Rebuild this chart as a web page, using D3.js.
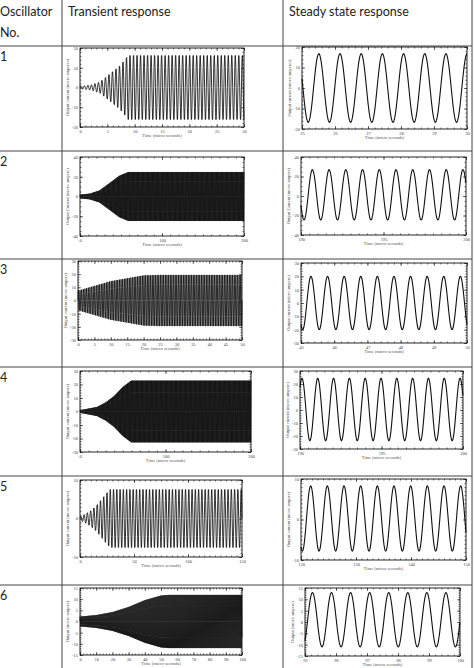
<!DOCTYPE html>
<html><head><meta charset="utf-8">
<script src="https://cdn.jsdelivr.net/npm/d3@7"></script>
<style>
body{margin:0;background:#fff}
.hdr{font-family:Lato,'Open Sans',sans-serif;font-size:12.5px;fill:#222}
.tick text{font-family:'Liberation Serif',serif;font-size:4.5px;fill:#444}
.ttl{font-family:'Liberation Serif',serif;font-size:4.5px;fill:#555}
</style></head><body><svg></svg><script>
// --- data ---
var oscillators = ['1','2','3','4','5','6'];
var headers = ['Transient response','Steady state response'];

var transientX = [[0,30],[0,200],[0,50],[0,200],[0,150],[0,100]];
var transientY = [[-20,20],[-40,40],[-30,30],[-30,30],[-10,10],[-15,15]];
var transientXTicks = [[0,5,10,15,20,25,30],[0,100,200],[0,5,10,15,20,25,30,35,40,45,50],[0,100,200],[0,50,100,150],[0,10,20,30,40,50,60,70,80,90,100]];
var transientYTicks = [[-20,-10,0,10,20],[-40,-20,0,20,40],[-30,-20,-10,0,10,20,30],[-30,-20,-10,0,10,20,30],[-10,0,10],[-15,-10,-5,0,5,10,15]];
var transientMinor = [[1,2],[10,5],[1,2],[10,2],[5,1],[2,1]];
// envelope (time, amplitude) of each transient trace
var envelopeT = [
  [0,2,3.7,5.5,7.3,8.3,8.8,30],
  [0,12,24,37,48,59,200],
  [0,10,20,25,50],
  [0,20,30,40,50,60,200],
  [0,5,10,15,20,25,28,150],
  [0,10,20,30,40,50,55,100]];
var envelopeA = [
  [0.7,1.3,3,7.3,11.5,15,17,17],
  [2,3,6.4,14.8,22,26,26],
  [7.8,15.4,20,20.4,20.4],
  [1,3.5,7,12,19,24,24],
  [0.5,1.2,2.1,3.4,5.2,7,7.9,7.9],
  [2.3,3,4.4,6.8,10,12.2,12.5,12.5]];

var steadyX = [[25,30],[190,200],[45,50],[190,200],[120,150],[95,100]];
var steadyY = [[-20,20],[-40,40],[-30,30],[-30,30],[-10,10],[-15,15]];
var steadyXTicks = [[25,26,27,28,29,30],[190,195,200],[45,46,47,48,49,50],[190,195,200],[120,130,140,150],[95,96,97,98,99,100]];
var steadyYTicks = [[-20,-10,0,10,20],[-40,-20,0,20,40],[-30,-20,-10,0,10,20,30],[-30,-20,-10,0,10,20,30],[-10,0,10],[-15,-10,-5,0,5,10,15]];
var steadyMinor = [[0.2,2],[0.5,5],[0.2,2],[0.5,2],[1,1],[0.2,1]];
var period = [0.642, 1.014, 0.5, 0.97, 3.03, 0.615];
var peakTime = [25.51, 190.69, 45.3, 191.09, 121.76, 95.24];
var steadyAmp = [16.7, 25.8, 20, 24, 8.05, 12];
var steadyOffset = [0, 1.2, 0, 0.4, 0.25, 1];

var xTitle = 'Time (micro seconds)';
var yTitles = ['Output current (micro amperes)','Output Current (micro ampere)','Output current (micro ampere)','Output current (micro ampere)','Output current (micro ampere)','Output (micro ampere)'];

// --- layout ---
var W = 474, H = 668;
var svg = d3.select('svg').attr('width', W).attr('height', H);
var rowLines = [46, 151, 259, 367, 476, 585];
var colLines = [62, 283, 472];

var tFrames = [[80,48,244,127],[80,157,244,236],[78,261,242,340],[80,371,251,452],[80,480,242,557],[80,588,242,655]];
var sFrames = [[302,47,467,129],[301,157,466,235],[301,263,467,343],[300,371,463,449],[301,479,466,560],[305,588,460,656]];

// table grid
svg.selectAll('.hline').data(rowLines).enter().append('line')
  .attr('x1', 0).attr('x2', colLines[2]).attr('y1', d => d).attr('y2', d => d)
  .attr('stroke', '#444').attr('stroke-width', 1);
svg.selectAll('.vline').data(colLines).enter().append('line')
  .attr('x1', d => d).attr('x2', d => d).attr('y1', 0).attr('y2', H)
  .attr('stroke', '#444').attr('stroke-width', 1);

svg.append('text').attr('class','hdr').attr('x', 0).attr('y', 16).text('Oscillator');
svg.append('text').attr('class','hdr').attr('x', 0).attr('y', 37).text('No.');
svg.append('text').attr('class','hdr').attr('x', 68).attr('y', 16).text(headers[0]);
svg.append('text').attr('class','hdr').attr('x', 289).attr('y', 16).text(headers[1]);

svg.selectAll('.rowlab').data(oscillators).enter().append('text')
  .attr('class','hdr').attr('x', 0).attr('y', (d, i) => rowLines[i] + 15).text(d => d);

function minorTicks(dom, step) {
  var out = [];
  for (var v = dom[0]; v <= dom[1] + 1e-9; v += step) out.push(+v.toFixed(4));
  return out;
}

function drawPanel(frame, xd, yd, xt, yt, minor, yTitle, fn, step, sw) {
  var x = d3.scaleLinear().domain(xd).range([frame[0], frame[2]]);
  var y = d3.scaleLinear().domain(yd).range([frame[3], frame[1]]);
  var g = svg.append('g');

  var pts = d3.range(xd[0], xd[1] + step / 2, step).map(t => [t, fn(t)]);
  g.append('path').datum(pts)
    .attr('d', d3.line().x(d => x(d[0])).y(d => y(d[1])))
    .attr('fill', 'none').attr('stroke', '#111').attr('stroke-width', sw);

  g.append('rect').attr('x', frame[0]).attr('y', frame[1])
    .attr('width', frame[2] - frame[0]).attr('height', frame[3] - frame[1])
    .attr('fill', 'none').attr('stroke', '#111').attr('stroke-width', 0.9);

  var fmt = d => d;
  g.append('g').attr('transform', 'translate(0,' + frame[3] + ')')
    .call(d3.axisBottom(x).tickValues(minorTicks(xd, minor[0])).tickSize(-1.5).tickFormat(''));
  g.append('g').attr('transform', 'translate(0,' + frame[1] + ')')
    .call(d3.axisTop(x).tickValues(minorTicks(xd, minor[0])).tickSize(-1.5).tickFormat(''));
  g.append('g').attr('transform', 'translate(' + frame[0] + ',0)')
    .call(d3.axisLeft(y).tickValues(minorTicks(yd, minor[1])).tickSize(-1.5).tickFormat(''));
  g.append('g').attr('transform', 'translate(' + frame[2] + ',0)')
    .call(d3.axisRight(y).tickValues(minorTicks(yd, minor[1])).tickSize(-1.5).tickFormat(''));

  g.append('g').attr('transform', 'translate(0,' + frame[3] + ')')
    .call(d3.axisBottom(x).tickValues(xt).tickSize(-3).tickPadding(2.5).tickFormat(fmt));
  g.append('g').attr('transform', 'translate(0,' + frame[1] + ')')
    .call(d3.axisTop(x).tickValues(xt).tickSize(-3).tickFormat(''));
  g.append('g').attr('transform', 'translate(' + frame[0] + ',0)')
    .call(d3.axisLeft(y).tickValues(yt).tickSize(-3).tickPadding(2).tickFormat(fmt));
  g.append('g').attr('transform', 'translate(' + frame[2] + ',0)')
    .call(d3.axisRight(y).tickValues(yt).tickSize(-3).tickFormat(''));

  g.selectAll('.domain').remove();
  g.selectAll('.tick line').attr('stroke', '#111').attr('stroke-width', 0.6);

  g.append('text').attr('class', 'ttl')
    .attr('x', (frame[0] + frame[2]) / 2).attr('y', frame[3] + 9.5)
    .attr('text-anchor', 'middle').text(xTitle);
  g.append('text').attr('class', 'ttl')
    .attr('transform', 'translate(' + (frame[0] - 11) + ',' + ((frame[1] + frame[3]) / 2) + ') rotate(-90)')
    .attr('text-anchor', 'middle').text(yTitle);
}

oscillators.forEach(function(o, i) {
  var env = d3.scaleLinear().domain(envelopeT[i]).range(envelopeA[i]).clamp(true);
  var T = period[i];
  drawPanel(tFrames[i], transientX[i], transientY[i], transientXTicks[i], transientYTicks[i],
    transientMinor[i], yTitles[i],
    t => env(t) * Math.sin(2 * Math.PI * t / T), T / 10, 0.85);

  drawPanel(sFrames[i], steadyX[i], steadyY[i], steadyXTicks[i], steadyYTicks[i],
    steadyMinor[i], yTitles[i],
    t => steadyOffset[i] + steadyAmp[i] * Math.cos(2 * Math.PI * (t - peakTime[i]) / T), T / 40, 1.1);
});
</script></body></html>
